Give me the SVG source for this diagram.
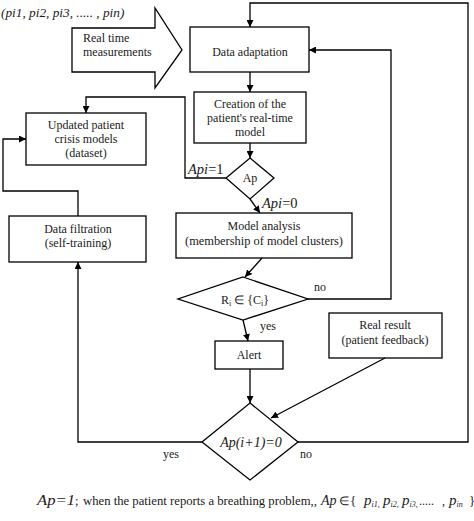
<svg xmlns="http://www.w3.org/2000/svg" width="474" height="521" viewBox="0 0 474 521">
<defs>
<marker id="ah" viewBox="0 0 10 10" refX="10" refY="5" markerWidth="7" markerHeight="7" markerUnits="userSpaceOnUse" orient="auto">
<path d="M0,0 L10,5 L0,10 z" fill="#000"/>
</marker>
<style>
.box{fill:#fff;stroke:#000;stroke-width:1.3}
.t{font-family:"Liberation Serif","Times New Roman",serif;font-size:12px;fill:#1a1a1a;text-anchor:middle}
.tl{font-family:"Liberation Serif","Times New Roman",serif;font-size:12px;fill:#1a1a1a}
.it{font-style:italic}
.c{fill:none;stroke:#000;stroke-width:1.3;marker-end:url(#ah)}
</style>
</defs>
<rect width="474" height="521" fill="#fff"/>

<text class="tl it" x="1" y="17" style="font-size:13.3px">(pi1, pi2, pi3, ..... , pin)</text>

<g id="input">
<path class="box" d="M72,28 H155 V8 L182,50 L155,88 V72 H72 Z"/>
<text class="tl" x="83" y="42">Real time</text>
<text class="tl" x="83" y="56">measurements</text>
</g>

<g id="adapt">
<rect class="box" x="190" y="27" width="119" height="45"/>
<text class="t" x="250" y="56">Data adaptation</text>
</g>

<g id="creation">
<rect class="box" x="194" y="92" width="112" height="51"/>
<text class="t" x="250" y="108">Creation of the</text>
<text class="t" x="250" y="122">patient's real-time</text>
<text class="t" x="250" y="136">model</text>
</g>

<g id="updated">
<rect class="box" x="26" y="113" width="120" height="52"/>
<text class="t" x="86" y="129">Updated patient</text>
<text class="t" x="86" y="143">crisis models</text>
<text class="t" x="86" y="157">(dataset)</text>
</g>

<g id="ap">
<path class="box" d="M250,158 L274,178 L250,199 L226,178 Z"/>
<text class="t" x="250" y="182">Ap</text>
</g>

<g id="filtration">
<rect class="box" x="9" y="216" width="137" height="46"/>
<text class="t" x="78" y="233">Data filtration</text>
<text class="t" x="78" y="247">(self-training)</text>
</g>

<g id="analysis">
<rect class="box" x="176" y="213" width="176" height="45"/>
<text class="t" x="264" y="230">Model analysis</text>
<text class="t" x="264" y="245" style="font-size:12.4px">(membership of model clusters)</text>
</g>

<g id="ri">
<path class="box" d="M243,277 L308,299 L243,320 L178,299 Z"/>
<text class="t" x="245" y="304">R<tspan font-size="8" dy="2">i</tspan><tspan dy="-2"> ∈  {C</tspan><tspan font-size="8" dy="2">i</tspan><tspan dy="-2">}</tspan></text>
</g>

<g id="alert">
<rect class="box" x="215" y="341" width="68" height="28"/>
<text class="t" x="249" y="359">Alert</text>
</g>

<g id="realresult">
<rect class="box" x="329" y="313" width="113" height="45"/>
<text class="t" x="385" y="329">Real result</text>
<text class="t" x="385" y="344">(patient feedback)</text>
</g>

<g id="check">
<path class="box" d="M250,403 L298,442 L250,480 L202,442 Z"/>
<text class="t it" x="251" y="447" style="font-size:14px">Ap(i+1)=0</text>
</g>

<g id="connectors">
<path class="c" d="M298,442 H468 V3 H250 V27"/>
<path class="c" d="M308,299 H391 V50 H309"/>
<path class="c" d="M250,72 V92"/>
<path class="c" d="M250,143 V158"/>
<path class="c" d="M226,178 H185 V97 H86 V113"/>
<path class="c" d="M250,199 L260,213"/>
<path class="c" d="M262,258 L245,277"/>
<path class="c" d="M243,320 L248,341"/>
<path class="c" d="M250,369 V403"/>
<path class="c" d="M385,358 L271,418"/>
<path class="c" d="M202,442 H78 V262"/>
<path class="c" d="M78,216 V191 H3 V139 H26"/>
</g>

<g id="labels">
<text class="tl" x="188" y="174" style="font-size:14.5px"><tspan class="it">Api</tspan>=1</text>
<text class="tl" x="262" y="208" style="font-size:14.5px"><tspan class="it">Api</tspan>=0</text>
<text class="tl" x="314" y="291">no</text>
<text class="tl" x="260" y="330">yes</text>
<text class="tl" x="163" y="458">yes</text>
<text class="tl" x="300" y="458">no</text>
</g>

<text class="tl" y="505" style="font-size:12.7px"><tspan x="37" class="it" font-size="15.5" textLength="38" lengthAdjust="spacingAndGlyphs">Ap=1</tspan><tspan x="75">;</tspan><tspan x="83">when the patient reports a breathing problem,,</tspan><tspan x="321" class="it" font-size="14">Ap</tspan><tspan x="339" font-size="12">∈</tspan><tspan x="350" font-size="13">{</tspan><tspan x="364" class="it" font-size="15">p</tspan><tspan font-size="8" dy="2" class="it">i1,</tspan><tspan x="383" dy="-2" class="it" font-size="15">p</tspan><tspan font-size="8" dy="2" class="it">i2,</tspan><tspan x="402" dy="-2" class="it" font-size="15">p</tspan><tspan font-size="8" dy="2" class="it">i3,</tspan><tspan x="419" dy="-2" font-size="12">.....</tspan><tspan x="442" font-size="12">,</tspan><tspan x="449" class="it" font-size="15">p</tspan><tspan font-size="8" dy="2" class="it">in</tspan><tspan x="469" dy="-2" font-size="13">}</tspan></text>
</svg>
